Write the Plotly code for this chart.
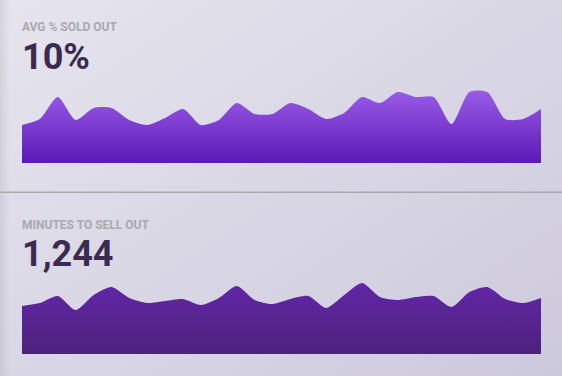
import plotly.graph_objects as go

# ---- data ----
days = list(range(30))
pct_sold_out = [7.6, 8.8, 13.2, 8.6, 11.0, 11.0, 8.6, 7.6, 9.0, 10.8,
                7.6, 8.6, 12.0, 9.8, 9.8, 12.0, 10.8, 8.8, 10.0, 13.2,
                12.0, 14.2, 13.2, 13.2, 7.8, 14.2, 14.2, 8.8, 8.8, 10.8]
minutes_to_sell = [1056, 1122, 1276, 968, 1298, 1474, 1232, 1122, 1166, 1210,
                   1078, 1232, 1496, 1188, 1100, 1210, 1276, 1012, 1298, 1562,
                   1254, 1188, 1254, 1276, 1034, 1364, 1474, 1210, 1122, 1232]
label_top = "AVG % SOLD OUT"
value_top = "10%"
label_bottom = "MINUTES TO SELL OUT"
value_bottom = "1,244"

W, H = 562, 376
x_dom = [22 / W, 541 / W]
top_dom = [(H - 163) / H, (H - 88) / H]
bot_dom = [(H - 354) / H, (H - 279) / H]

fig = go.Figure()
fig.add_trace(go.Scatter(
    x=days, y=pct_sold_out, mode="lines", line=dict(width=0, shape="spline", smoothing=0.7),
    fill="tozeroy",
    fillgradient=dict(type="vertical", start=0, stop=15,
                      colorscale=[[0, "#5b1ab6"], [1, "#9c5eea"]]),
    xaxis="x", yaxis="y", hoverinfo="skip", showlegend=False))
fig.add_trace(go.Scatter(
    x=days, y=minutes_to_sell, mode="lines", line=dict(width=0, shape="spline", smoothing=0.7),
    fill="tozeroy",
    fillgradient=dict(type="vertical", start=0, stop=1650,
                      colorscale=[[0, "#4c237c"], [1, "#6426aa"]]),
    xaxis="x2", yaxis="y2", hoverinfo="skip", showlegend=False))

ax = dict(visible=False, showgrid=False, zeroline=False, fixedrange=True)
svg = ("data:image/svg+xml;utf8,"
       "<svg xmlns='http://www.w3.org/2000/svg' width='562' height='376'>"
       "<defs><linearGradient id='g' x1='0' y1='0' x2='1' y2='1'>"
       "<stop offset='0' stop-color='%23e6e5ee'/><stop offset='1' stop-color='%23cdc9dc'/>"
       "</linearGradient><linearGradient id='s' x1='0' y1='0' x2='1' y2='0'>"
       "<stop offset='0' stop-color='%23000' stop-opacity='0.07'/>"
       "<stop offset='1' stop-color='%23000' stop-opacity='0'/></linearGradient></defs>"
       "<rect width='562' height='376' fill='url(%23g)'/>"
       "<rect width='10' height='376' fill='url(%23s)'/></svg>")

fig.update_layout(
    width=W, height=H, margin=dict(l=0, r=0, t=0, b=0),
    paper_bgcolor="#dcdae6", plot_bgcolor="rgba(0,0,0,0)",
    xaxis=dict(ax, domain=x_dom, range=[0, 29], anchor="y"),
    yaxis=dict(ax, domain=top_dom, range=[0, 15], anchor="x"),
    xaxis2=dict(ax, domain=x_dom, range=[0, 29], anchor="y2"),
    yaxis2=dict(ax, domain=bot_dom, range=[0, 1650], anchor="x2"),
    images=[dict(source=svg, xref="paper", yref="paper", x=0, y=1, sizex=1, sizey=1,
                 sizing="stretch", xanchor="left", yanchor="top", layer="below")],
    shapes=[dict(type="line", xref="paper", yref="paper", x0=0, x1=1,
                 y0=(H - 192.3) / H, y1=(H - 192.3) / H,
                 line=dict(color="#a9a9ab", width=1.5))],
    font=dict(family="Roboto"),
)

def ann(text, y_px, size, color):
    fig.add_annotation(text=text, xref="paper", yref="paper", x=20 / W, y=(H - y_px) / H,
                       xanchor="left", yanchor="middle", showarrow=False,
                       font=dict(family="Roboto", size=size, color=color, weight=700))

ann(label_top, 27.5, 12, "#a9a9ac")
ann(value_top, 57, 36, "#3b2b50")
ann(label_bottom, 225, 12, "#a9a9ac")
ann(value_bottom, 254, 36, "#3b2b50")

fig.write_html("out.html")
